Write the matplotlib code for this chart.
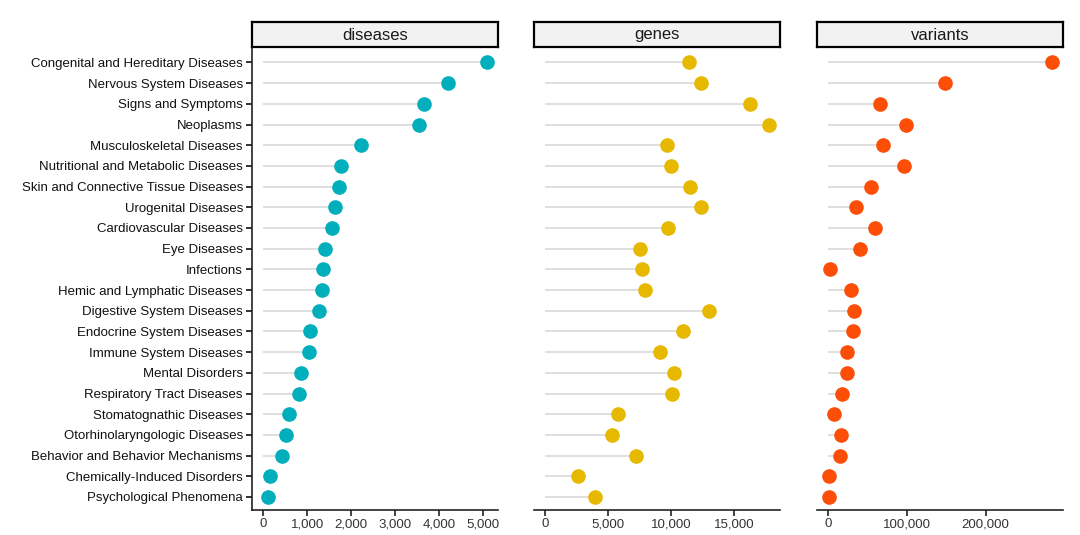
import matplotlib
matplotlib.use('Agg')
import matplotlib.pyplot as plt
from matplotlib.ticker import FuncFormatter

plt.rcParams['font.family'] = ['Liberation Sans', 'DejaVu Sans']

categories = ['Congenital and Hereditary Diseases', 'Nervous System Diseases', 'Signs and Symptoms',
              'Neoplasms', 'Musculoskeletal Diseases', 'Nutritional and Metabolic Diseases',
              'Skin and Connective Tissue Diseases', 'Urogenital Diseases', 'Cardiovascular Diseases',
              'Eye Diseases', 'Infections', 'Hemic and Lymphatic Diseases', 'Digestive System Diseases',
              'Endocrine System Diseases', 'Immune System Diseases', 'Mental Disorders',
              'Respiratory Tract Diseases', 'Stomatognathic Diseases', 'Otorhinolaryngologic Diseases',
              'Behavior and Behavior Mechanisms', 'Chemically-Induced Disorders', 'Psychological Phenomena']

diseases = [5090, 4200, 3650, 3540, 2215, 1780, 1735, 1645, 1575, 1415, 1370, 1345, 1280,
            1075, 1050, 870, 820, 595, 525, 435, 160, 115]
genes = [11430, 12380, 16270, 17780, 9680, 10000, 11510, 12380, 9760, 7540, 7700, 7940, 13020,
         10950, 9130, 10240, 10080, 5790, 5320, 7220, 2620, 3970]
variants = [284000, 147800, 66200, 99400, 70000, 96800, 54800, 35700, 59900, 40800, 2500, 29300,
            33100, 31800, 24200, 24200, 17800, 7600, 16600, 15300, 1300, 1300]

panels = [('diseases', diseases, '#00AFBB', [0, 1000, 2000, 3000, 4000, 5000]),
          ('genes', genes, '#E7B800', [0, 5000, 10000, 15000]),
          ('variants', variants, '#FC4E07', [0, 100000, 200000])]

fig = plt.figure(figsize=(10.8, 5.35), dpi=100)
lefts = [252, 534, 817]
W, H = 1080, 535
n = len(categories)
ypos = list(range(n))[::-1]

for i, (name, vals, col, ticks) in enumerate(panels):
    ax = fig.add_axes([lefts[i] / W, 1 - 510 / H, 246 / W, (510 - 48) / H])
    ax.hlines(ypos, 0, vals, color='#d6d6d6', lw=1.1, zorder=1)
    ax.plot(vals, ypos, 'o', color=col, ms=9.5, zorder=2)
    vmax = max(vals)
    ax.set_xlim(-0.05 * vmax, 1.05 * vmax)
    ax.set_ylim(-0.63, n - 1 + 0.7)
    ax.set_xticks(ticks)
    ax.xaxis.set_major_formatter(FuncFormatter(lambda v, p: f'{int(v):,}'))
    ax.tick_params(axis='x', labelsize=9.5, colors='#222222', length=4, width=1.2, pad=2)
    ax.tick_params(axis='x', labelcolor='#333333')
    for s in ['top', 'right']:
        ax.spines[s].set_visible(False)
    ax.spines['bottom'].set_linewidth(1.2)
    ax.spines['bottom'].set_color('#222222')
    if i == 0:
        ax.set_yticks(ypos)
        ax.set_yticklabels(categories)
        ax.tick_params(axis='y', labelsize=9.5, colors='#111111', length=4, width=1.2, pad=2.5)
        ax.spines['left'].set_linewidth(1.2)
        ax.spines['left'].set_color('#222222')
    else:
        ax.spines['left'].set_visible(False)
        ax.set_yticks([])
    # strip header
    sx = fig.add_axes([lefts[i] / W, 1 - 47 / H, 246 / W, 25 / H])
    sx.set_facecolor('#F2F2F2')
    sx.set_xticks([])
    sx.set_yticks([])
    for s in sx.spines.values():
        s.set_linewidth(1.6)
        s.set_color('black')
    sx.text(0.5, 0.48, name, ha='center', va='center', fontsize=12, color='#1a1a1a',
            transform=sx.transAxes)

fig.savefig('out.png', dpi=100)
